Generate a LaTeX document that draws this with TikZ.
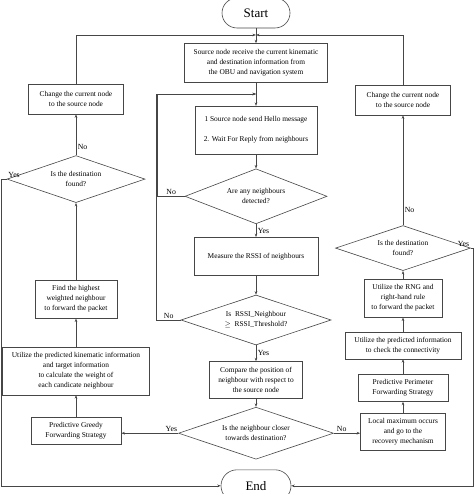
\documentclass[tikz,border=0pt]{standalone}
\usepackage{fontspec}
\setmainfont{Liberation Serif}
\usetikzlibrary{shapes.geometric, arrows.meta, positioning}
\definecolor{flowline}{RGB}{70,70,70}

\begin{document}
\begin{tikzpicture}[
    x=1pt, y=-1pt,
    node distance=12pt,
    box/.style={rectangle, draw=flowline, line width=0.6pt, align=center, inner sep=2pt, font=\fontsize{7.4}{10}\selectfont},
    decision/.style={diamond, draw=flowline, line width=0.6pt, align=center, inner sep=0pt, font=\fontsize{7.4}{10}\selectfont},
    terminal/.style={rectangle, rounded corners=15pt, draw=flowline, line width=0.6pt, minimum height=30pt, font=\fontsize{13}{15}\selectfont},
    arrow/.style={-{Stealth[length=3.5pt, width=2.6pt]}, draw=flowline, line width=0.6pt},
    link/.style={draw=flowline, line width=0.6pt},
    lbl/.style={font=\fontsize{7.8}{9}\selectfont, inner sep=1.5pt}
]
\useasboundingbox (0,0) rectangle (474,494);

% centre column
\node[terminal, minimum width=68pt] (start) at (256,13) {Start};
\node[box, below=15pt of start, minimum width=143pt, minimum height=39pt] (src) {Source node receive the current kinematic\\and destination information from\\the OBU and navigation system};
\node[box, below=23pt of src, minimum width=122pt, minimum height=48pt] (hello) {1 Source node send Hello message\\[10pt]2. Wait For Reply from neighbours};
\node[decision, below=14pt of hello, minimum width=142pt, minimum height=55pt, aspect=2.6] (anyNb) {Are any neighbours\\detected?};
\node[box, below=13pt of anyNb, minimum width=124pt, minimum height=38pt] (rssi) {Measure the RSSI of neighbours};
\node[decision, below=19pt of rssi, minimum width=150pt, minimum height=50pt, aspect=3] (thresh) {Is\ \ RSSI\_Neighbour\\$\geq$\ \ RSSI\_Threshold?};
\node[box, below=16pt of thresh, minimum width=93pt, minimum height=37pt] (cmp) {Compare the position of\\neighbour with respect to\\the source node};
\node[decision, below=8pt of cmp, minimum width=155pt, minimum height=52pt, aspect=3] (closer) {Is the neighbour closer\\towards destination?};
\node[terminal, below=10pt of closer, minimum width=70pt, minimum height=32pt, rounded corners=16pt] (end) {End};

% left column (greedy)
\node[box, minimum width=95pt, minimum height=30pt] (chgL) at (76,99) {Change the current node\\to the source node};
\node[decision, below=41pt of chgL, minimum width=138pt, minimum height=47pt, aspect=2.9] (destL) {Is the destination\\found?};
\node[box, below=77pt of destL, minimum width=82pt, minimum height=38pt] (best) {Find the highest\\weighted neighbour\\to forward the packet};
\node[box, below=28pt of best, minimum width=147pt, minimum height=48pt] (weight) {Utilize the predicted kinematic information\\and target information\\to calculate the weight of\\each candicate neighbour};
\node[box, below=22pt of weight, minimum width=90pt, minimum height=27pt] (greedy) {Predictive Greedy\\Forwarding Strategy};

% right column (perimeter)
\node[box, minimum width=95pt, minimum height=30pt] (chgR) at (403,100) {Change the current node\\to the source node};
\node[decision, below=110pt of chgR, minimum width=135pt, minimum height=45pt, aspect=3] (destR) {Is the destination\\found?};
\node[box, below=8pt of destR, minimum width=78pt, minimum height=38pt] (rng) {Utilize the RNG and\\right-hand rule\\to forward the packet};
\node[box, below=14pt of rng, minimum width=116pt, minimum height=27pt] (conn) {Utilize the predicted information\\to check the connectivity};
\node[box, below=15pt of conn, minimum width=90pt, minimum height=27pt] (perim) {Predictive Perimeter\\Forwarding Strategy};
\node[box, below=11pt of perim, minimum width=85pt, minimum height=37pt] (localmax) {Local maximum occurs\\and go to the\\recovery mechanism};

\coordinate (topjoin) at (256,35);
\coordinate (loopjoin) at (256,94);

% main flow
\draw[arrow] (start) -- (src);
\draw[arrow] (src) -- (hello);
\draw[arrow] (hello) -- (anyNb);
\draw[arrow] (anyNb) -- node[right, lbl] {Yes} (rssi);
\draw[arrow] (rssi) -- (thresh);
\draw[arrow] (thresh) -- node[right, lbl] {Yes} (cmp);
\draw[arrow] (cmp) -- (closer);

% retry loop
\draw[arrow] (anyNb.west) -- node[above, lbl] {No} ++(-27,0) |- (loopjoin);
\draw[arrow] (thresh.west) -- node[above, lbl] {No} ++(-24,0) |- (loopjoin);

% greedy branch
\draw[arrow] (closer.west) -- node[pos=0.12, above, lbl] {Yes} (closer.west -| greedy.east);
\draw[arrow] (greedy) -- (weight);
\draw[arrow] (weight) -- (best);
\draw[arrow] (best) -- (destL);
\draw[arrow] (destL) -- node[pos=0.1, above right, lbl] {No} (chgL);
\draw[arrow] (chgL.north) |- (topjoin);
\draw[arrow] (destL.west) -- ++(-5,0) |- (end.west);
\node[above right, lbl] at (destL.west) {Yes};

% perimeter branch
\draw[arrow] (closer.east) -- node[pos=0.3, above, lbl] {No} (closer.east -| localmax.west);
\draw[arrow] (localmax) -- (perim);
\draw[arrow] (perim) -- (conn);
\draw[arrow] (conn) -- (rng);
\draw[arrow] (rng) -- (destR);
\draw[arrow] (destR) -- node[pos=0.1, above right, lbl] {No} (chgR);
\draw[arrow] (chgR.north) |- (topjoin);
\draw[arrow] (destR.east) -- ++(2,0) |- (end.east);
\node[above left, lbl] at (destR.east) {Yes};

\end{tikzpicture}
\end{document}
